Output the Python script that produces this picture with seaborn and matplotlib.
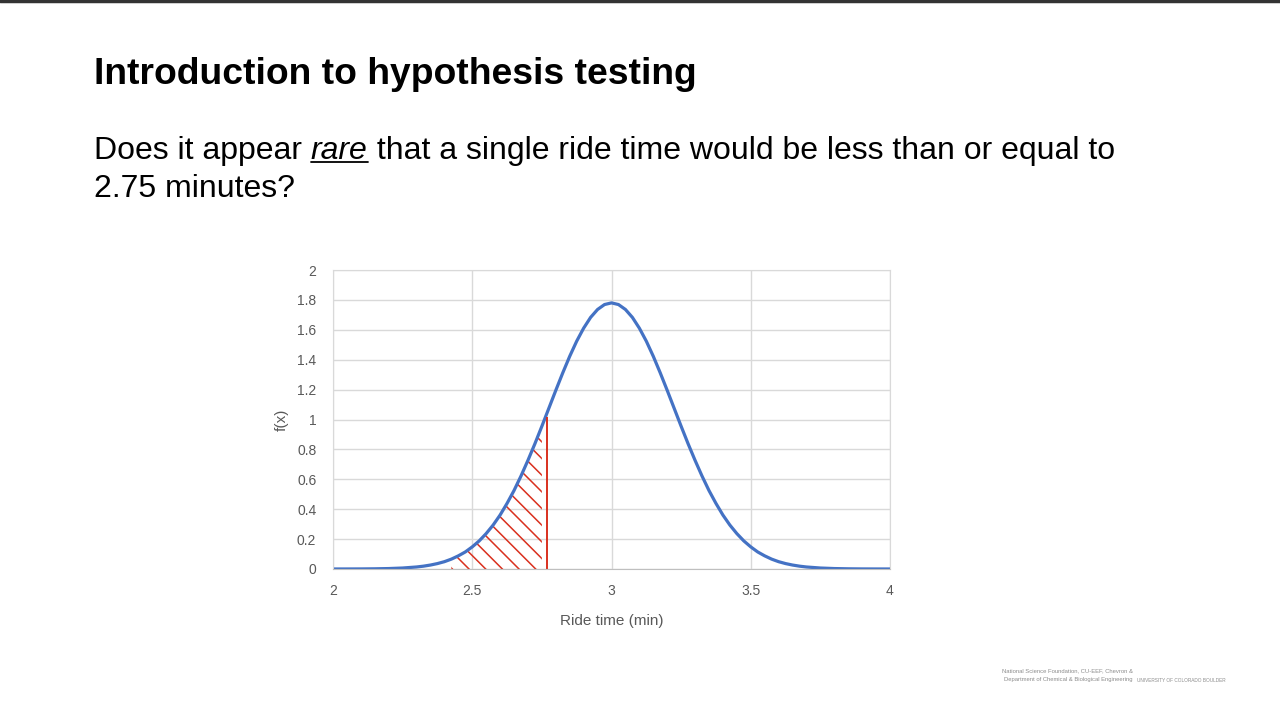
import matplotlib
matplotlib.use("Agg")
import matplotlib.pyplot as plt
import numpy as np
import pandas as pd
import seaborn as sns
from matplotlib.lines import Line2D

# curve values (ride time vs density)
ride_time = [2.0, 2.05, 2.1, 2.15, 2.2, 2.25, 2.3, 2.325, 2.35, 2.375, 2.4, 2.425, 2.45, 2.475, 2.5,
             2.525, 2.55, 2.575, 2.6, 2.625, 2.65, 2.675, 2.7, 2.725, 2.75, 2.775, 2.8, 2.825,
             2.85, 2.875, 2.9, 2.925, 2.95, 2.975, 3.0, 3.025, 3.05, 3.075, 3.1, 3.125, 3.15,
             3.175, 3.2, 3.225, 3.25, 3.275, 3.3, 3.325, 3.35, 3.375, 3.4, 3.425, 3.45, 3.475,
             3.5, 3.525, 3.55, 3.575, 3.6, 3.625, 3.65, 3.675, 3.7, 3.75, 3.8, 3.85, 3.9, 3.95, 4.0]
density = [0.0001, 0.0002, 0.0005, 0.0013, 0.003, 0.0066, 0.0135, 0.019, 0.0265, 0.0363, 0.049,
           0.066, 0.088, 0.114, 0.148, 0.188, 0.237, 0.294, 0.361, 0.439, 0.525, 0.622, 0.727,
           0.838, 0.955, 1.075, 1.195, 1.312, 1.423, 1.524, 1.611, 1.683, 1.736, 1.769, 1.78,
           1.769, 1.736, 1.683, 1.611, 1.524, 1.423, 1.312, 1.195, 1.075, 0.955, 0.838, 0.727,
           0.622, 0.525, 0.439, 0.361, 0.294, 0.237, 0.188, 0.148, 0.114, 0.088, 0.066, 0.049,
           0.0363, 0.0265, 0.019, 0.0135, 0.0066, 0.003, 0.0013, 0.0005, 0.0002, 0.0001]
shade_from = 2.42
cutoff = 2.77
x_ticks = [2, 2.5, 3, 3.5, 4]
y_ticks = [0, 0.2, 0.4, 0.6, 0.8, 1, 1.2, 1.4, 1.6, 1.8, 2]

df = pd.DataFrame({"ride_time": ride_time, "f": density})

sns.set_style("white")
plt.rcParams["font.family"] = ["Liberation Sans", "DejaVu Sans"]
plt.rcParams["text.color"] = "black"
plt.rcParams["hatch.linewidth"] = 1.1
plt.rcParams["hatch.color"] = "#d9301e"

fig = plt.figure(figsize=(12.8, 7.2), dpi=100)
fig.patch.set_facecolor("white")

# top border of the slide
fig.add_artist(Line2D([0, 1], [0.9985, 0.9985], color="#333333", lw=2.5, transform=fig.transFigure))

# title and question text
fig.text(94 / 1280, 1 - 74 / 720, "Introduction to hypothesis testing",
         fontsize=26.8, fontweight="bold", va="center", ha="left")
t1 = fig.text(94 / 1280, 1 - 151 / 720, "Does it appear ", fontsize=23, va="center", ha="left")
t2 = fig.text(0, 0, "rare", fontsize=23, style="italic", va="center", ha="left")
t3 = fig.text(0, 0, " that a single ride time would be less than or equal to",
              fontsize=23, va="center", ha="left")
fig.text(94 / 1280, 1 - 189 / 720, "2.75 minutes?", fontsize=23, va="center", ha="left")

fig.canvas.draw()
r = fig.canvas.get_renderer()
b1 = t1.get_window_extent(r)
t2.set_position((b1.x1 / 1280, 1 - 151 / 720))
b2 = t2.get_window_extent(r)
t3.set_position((b2.x1 / 1280, 1 - 151 / 720))
fig.add_artist(Line2D([b2.x0 / 1280, b2.x1 / 1280], [1 - 162 / 720, 1 - 162 / 720],
                      color="black", lw=1.3, transform=fig.transFigure))

# chart
ax = fig.add_axes([333 / 1280, 1 - 569 / 720, (890 - 333) / 1280, (569 - 270) / 720])
ax.grid(True, color="#d9d9d9", lw=1)
ax.set_axisbelow(True)
sns.lineplot(data=df, x="ride_time", y="f", ax=ax, color="#4472c4", lw=2.3)

# hand-drawn shading of the lower tail
tail = df[(df.ride_time >= shade_from) & (df.ride_time <= cutoff + 0.001)]
ax.fill_between(tail.ride_time, 0, tail.f, facecolor="none", edgecolor="#d9301e",
                hatch="\\\\", lw=0)
ax.vlines(cutoff, 0, 1.02, color="#d9301e", lw=1.4)

ax.set_xlim(2, 4)
ax.set_ylim(0, 2)
ax.set_xticks(x_ticks)
ax.set_xticklabels(["2", "2.5", "3", "3.5", "4"])
ax.set_yticks(y_ticks)
ax.set_yticklabels(["0", "0.2", "0.4", "0.6", "0.8", "1", "1.2", "1.4", "1.6", "1.8", "2"])
ax.tick_params(colors="#595959", labelsize=10, length=0, pad=12)
ax.tick_params(axis="x", pad=11)
for s in ax.spines.values():
    s.set_color("#d9d9d9")
ax.spines["bottom"].set_color("#bfbfbf")
ax.set_xlabel("Ride time (min)", fontsize=11, color="#595959", labelpad=11)
ax.set_ylabel("f(x)", fontsize=11, color="#595959", labelpad=6)

# footer credits
fig.text(1133 / 1280, 1 - 671 / 720, "National Science Foundation, CU-EEF, Chevron &",
         fontsize=4.2, color="#8c8c8c", ha="right", va="center")
fig.text(1133 / 1280, 1 - 680 / 720, "Department of Chemical & Biological Engineering",
         fontsize=4.2, color="#8c8c8c", ha="right", va="center")
fig.text(1137 / 1280, 1 - 680 / 720, "UNIVERSITY OF COLORADO BOULDER",
         fontsize=3.4, color="#8c8c8c", ha="left", va="center")

fig.savefig("out.png", dpi=100)
